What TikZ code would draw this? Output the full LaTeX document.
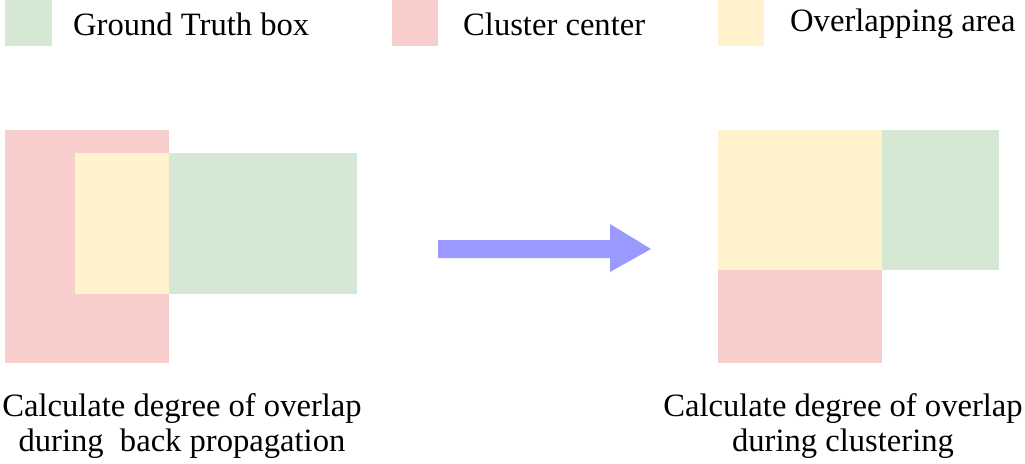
\documentclass[tikz,border=0pt]{standalone}
\usepackage{fontspec}
\setmainfont{Liberation Serif}
\definecolor{gt}{HTML}{D5E8D4}
\definecolor{cc}{HTML}{F8CECC}
\definecolor{ov}{HTML}{FFF2CC}
\definecolor{ar}{HTML}{9999FF}
\begin{document}
\begin{tikzpicture}[x=1pt,y=-1pt,
  lab/.style={font=\fontsize{32.6}{36}\selectfont,anchor=west,inner sep=0pt},
  captxt/.style={font=\fontsize{32.6}{35}\selectfont,align=center,inner sep=0pt}]
\useasboundingbox (0,0) rectangle (1025,463);
% legend
\fill[gt] (5,0) rectangle (52,46);
\node[lab] (l1) at (73,24) {Ground Truth box};
\fill[cc] (392,0) rectangle (438,46);
\node[lab] (l2) at (463,24) {Cluster center};
\fill[ov] (718,0) rectangle (764,46);
\node[lab] (l3) at (790,24) {Overlapping area};
% left
\fill[cc] (5,130) rectangle (169,363);
\fill[gt] (169,153) rectangle (357,294);
\fill[ov] (75,153) rectangle (169,294);
% arrow
\fill[ar] (438,240) -- (610,240) -- (610,224) -- (651,249) -- (610,272) -- (610,258) -- (438,258) -- cycle;
% right
\fill[ov] (718,130) rectangle (882,270);
\fill[gt] (882,130) rectangle (999,270);
\fill[cc] (718,270) rectangle (882,363);
% captions
\node[captxt] (c1) at (182,426) {Calculate degree of overlap\\during~ back propagation};
\node[captxt] (c2) at (843,426) {Calculate degree of overlap\\during clustering};
\end{tikzpicture}
\end{document}
